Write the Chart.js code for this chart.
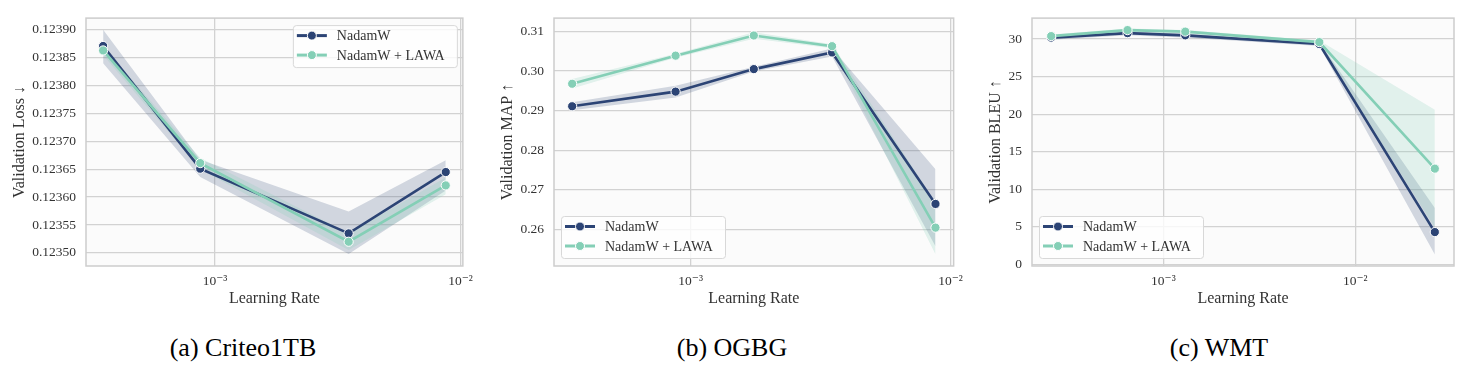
<!DOCTYPE html>
<html>
<head>
<meta charset="utf-8">
<script src="https://cdn.jsdelivr.net/npm/chart.js@4.4.0/dist/chart.umd.min.js"></script>
<style>
  body { margin: 0; background: #fff; width: 1467px; height: 392px; position: relative; overflow: hidden; }
  .panel { position: absolute; top: 0; height: 310px; }
  .cap { position: absolute; top: 333px; font-family: 'Liberation Serif', serif; font-size: 26px; color: #000;
         transform: translateX(-50%); white-space: nowrap; }
</style>
</head>
<body>
<div class="panel" style="left:0;width:480px"><canvas id="criteo"></canvas></div>
<div class="panel" style="left:490px;width:480px"><canvas id="ogbg"></canvas></div>
<div class="panel" style="left:980px;width:487px"><canvas id="wmt"></canvas></div>
<div class="cap" style="left:243px">(a) Criteo1TB</div>
<div class="cap" style="left:732px">(b) OGBG</div>
<div class="cap" style="left:1219px">(c) WMT</div>
<script>
// (a) Criteo1TB
var criteoLr = [3.5e-4, 8.7e-4, 3.5e-3, 8.7e-3];
var criteoNadamw = [0.123871, 0.123651, 0.123535, 0.123645];
var criteoNadamwLow = [0.12384, 0.123636, 0.123498, 0.123612];
var criteoNadamwHigh = [0.12390, 0.123667, 0.123574, 0.123666];
var criteoLawa = [0.123863, 0.123661, 0.12352, 0.123621];
var criteoLawaLow = [0.123855, 0.12365, 0.123505, 0.123605];
var criteoLawaHigh = [0.12387, 0.12367, 0.123535, 0.123635];
var criteoYTicks = [0.1235, 0.12355, 0.1236, 0.12365, 0.1237, 0.12375, 0.1238, 0.12385, 0.1239];

// (b) OGBG
var ogbgLr = [3.5e-4, 8.75e-4, 1.75e-3, 3.5e-3, 8.75e-3];
var ogbgNadamw = [0.2911, 0.2948, 0.3005, 0.3047, 0.2664];
var ogbgNadamwLow = [0.2901, 0.2933, 0.2999, 0.3037, 0.2557];
var ogbgNadamwHigh = [0.2921, 0.2963, 0.3011, 0.3057, 0.2752];
var ogbgLawa = [0.2968, 0.3039, 0.3090, 0.3063, 0.2604];
var ogbgLawaLow = [0.2956, 0.3034, 0.3082, 0.3058, 0.2537];
var ogbgLawaHigh = [0.2980, 0.3044, 0.3098, 0.3068, 0.2668];
var ogbgYTicks = [0.26, 0.27, 0.28, 0.29, 0.30, 0.31];

// (c) WMT
var wmtLr = [2.6e-4, 6.5e-4, 1.3e-3, 6.5e-3, 2.6e-2];
var wmtNadamw = [30.2, 30.8, 30.5, 29.35, 4.3];
var wmtNadamwLow = [29.9, 30.5, 30.2, 29.1, 1.3];
var wmtNadamwHigh = [30.4, 31.0, 30.7, 29.6, 7.5];
var wmtLawa = [30.4, 31.2, 31.0, 29.6, 12.75];
var wmtLawaLow = [30.2, 30.9, 30.7, 29.3, 4.9];
var wmtLawaHigh = [30.6, 31.4, 31.2, 29.8, 20.6];
var wmtYTicks = [0, 5, 10, 15, 20, 25, 30];

var xTickValues = [1e-3, 1e-2];
var xTickLabels = ['10\u207B\u00B3', '10\u207B\u00B2'];
var seriesNames = ['NadamW', 'NadamW + LAWA'];

var navy = '#2c4475';
var teal = '#84cfb6';
var navyBand = 'rgba(44,68,117,0.2)';
var tealBand = 'rgba(132,207,182,0.22)';
var gridColor = '#d2d2d2';
var serif = "'Liberation Serif', 'DejaVu Serif', serif";

function pts(xs, ys) {
    return xs.map(function (x, i) { return {x: x, y: ys[i]}; });
}

function logRange(xs) {
    var lo = Math.log10(Math.min.apply(null, xs));
    var hi = Math.log10(Math.max.apply(null, xs));
    var m = (hi - lo) * 0.05;
    return [Math.pow(10, lo - m), Math.pow(10, hi + m)];
}

var plotBg = {
    id: 'plotBg',
    beforeDraw: function (chart) {
        var a = chart.chartArea, ctx = chart.ctx;
        ctx.save();
        ctx.fillStyle = '#fbfbfb';
        ctx.fillRect(a.left, a.top, a.right - a.left, a.bottom - a.top);
        ctx.restore();
    },
    afterDraw: function (chart) {
        var a = chart.chartArea, ctx = chart.ctx;
        ctx.save();
        ctx.strokeStyle = '#cdcdcd';
        ctx.lineWidth = 1.5;
        ctx.strokeRect(a.left, a.top, a.right - a.left, a.bottom - a.top);
        ctx.restore();
    }
};

var cornerLegend = {
    id: 'cornerLegend',
    afterDraw: function (chart, args, opts) {
        var ctx = chart.ctx, a = chart.chartArea;
        var items = chart.data.datasets.filter(function (d) { return d.inLegend; });
        var w = 164, h = 42;
        var x = opts.corner === 'tr' ? a.right - 6 - w : a.left + 7;
        var y = opts.corner === 'tr' ? a.top + 7 : a.bottom - 8 - h;
        ctx.save();
        ctx.beginPath();
        ctx.roundRect(x + 0.5, y + 0.5, w, h, 3);
        ctx.fillStyle = 'rgba(255,255,255,0.8)';
        ctx.fill();
        ctx.strokeStyle = '#d8d8d8';
        ctx.lineWidth = 1;
        ctx.stroke();
        items.forEach(function (d, i) {
            var cy = y + 10.5 + i * 19.5;
            ctx.strokeStyle = d.borderColor;
            ctx.lineWidth = 3;
            ctx.beginPath();
            ctx.moveTo(x + 4, cy);
            ctx.lineTo(x + 34, cy);
            ctx.stroke();
            ctx.beginPath();
            ctx.arc(x + 19, cy, 4.5, 0, 2 * Math.PI);
            ctx.fillStyle = d.borderColor;
            ctx.fill();
            ctx.strokeStyle = '#fff';
            ctx.lineWidth = 1;
            ctx.stroke();
            ctx.fillStyle = '#333';
            ctx.font = '14px ' + serif;
            ctx.textBaseline = 'middle';
            ctx.fillText(d.label, x + 44, cy + 1);
        });
        ctx.restore();
    }
};

function band(xs, lo, hi, color, order) {
    return [
        {label: 'lo', data: pts(xs, lo), borderWidth: 0, pointRadius: 0, fill: false, order: order},
        {label: 'hi', data: pts(xs, hi), borderWidth: 0, pointRadius: 0, fill: '-1',
         backgroundColor: color, order: order}
    ];
}

function line(name, xs, ys, color, order) {
    return {
        label: name, inLegend: true, data: pts(xs, ys), borderColor: color, backgroundColor: color,
        borderWidth: 2.6, pointRadius: 4.6, pointBorderColor: '#fff', pointBorderWidth: 1,
        fill: false, order: order
    };
}

function makePanel(id, p) {
    var xr = logRange(p.lr);
    var datasets = []
        .concat(band(p.lr, p.nLow, p.nHigh, navyBand, 5))
        .concat(band(p.lr, p.lLow, p.lHigh, tealBand, 4))
        .concat([line(seriesNames[0], p.lr, p.n, navy, 1), line(seriesNames[1], p.lr, p.l, teal, 0)]);

    new Chart(document.getElementById(id), {
        type: 'line',
        data: {datasets: datasets},
        plugins: [plotBg, cornerLegend],
        options: {
            responsive: true,
            maintainAspectRatio: false,
            animation: false,
            layout: {padding: {top: 7, right: p.padRight, left: 0, bottom: 0}},
            plugins: {
                legend: {display: false},
                tooltip: {enabled: false},
                cornerLegend: {corner: p.corner}
            },
            scales: {
                x: {
                    type: 'logarithmic',
                    min: xr[0],
                    max: xr[1],
                    afterBuildTicks: function (s) {
                        s.ticks = xTickValues.map(function (v) { return {value: v}; });
                    },
                    afterFit: function (s) { s.height = 44; },
                    grid: {color: gridColor, lineWidth: 1.3, drawTicks: false},
                    border: {display: false},
                    ticks: {
                        autoSkip: false, maxRotation: 0, padding: 7, color: '#333',
                        font: {family: serif, size: 13.5},
                        callback: function (v, i) { return xTickLabels[i]; }
                    },
                    title: {display: true, text: 'Learning Rate', color: '#333',
                            font: {family: serif, size: 16}, padding: {top: 0, bottom: 2}}
                },
                y: {
                    min: p.yMin,
                    max: p.yMax,
                    afterBuildTicks: function (s) {
                        s.ticks = p.yTicks.map(function (v) { return {value: v}; });
                    },
                    afterFit: function (s) { s.width = p.yWidth; },
                    grid: {color: gridColor, lineWidth: 1.3, drawTicks: false},
                    border: {display: false},
                    ticks: {
                        padding: 10, color: '#333',
                        font: {family: serif, size: 13.5},
                        callback: function (v) { return v.toFixed(p.digits); }
                    },
                    title: {display: true, text: p.yTitle, color: '#333',
                            font: {family: serif, size: 16}, padding: {top: p.titlePad, bottom: 0}}
                }
            }
        }
    });
}

makePanel('criteo', {
    lr: criteoLr, n: criteoNadamw, nLow: criteoNadamwLow, nHigh: criteoNadamwHigh,
    l: criteoLawa, lLow: criteoLawaLow, lHigh: criteoLawaHigh, yTicks: criteoYTicks,
    yMin: 0.1234765, yMax: 0.123921, digits: 5, yTitle: 'Validation Loss \u2193',
    yWidth: 86, padRight: 13, titlePad: 10, corner: 'tr'
});
makePanel('ogbg', {
    lr: ogbgLr, n: ogbgNadamw, nLow: ogbgNadamwLow, nHigh: ogbgNadamwHigh,
    l: ogbgLawa, lLow: ogbgLawaLow, lHigh: ogbgLawaHigh, yTicks: ogbgYTicks,
    yMin: 0.2507, yMax: 0.3134, digits: 2, yTitle: 'Validation MAP \u2191',
    yWidth: 64, padRight: 14, titlePad: 8, corner: 'bl'
});
makePanel('wmt', {
    lr: wmtLr, n: wmtNadamw, nLow: wmtNadamwLow, nHigh: wmtNadamwHigh,
    l: wmtLawa, lLow: wmtLawaLow, lHigh: wmtLawaHigh, yTicks: wmtYTicks,
    yMin: -0.22, yMax: 32.8, digits: 0, yTitle: 'Validation BLEU \u2191',
    yWidth: 52, padRight: 13, titlePad: 6, corner: 'bl'
});
</script>
</body>
</html>
